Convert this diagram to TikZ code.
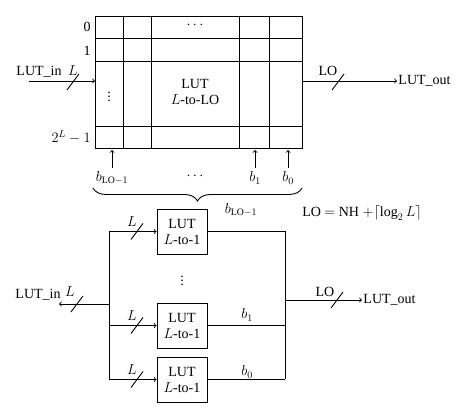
\documentclass[tikz,border=0pt]{standalone}
\usepackage{fontspec}
\setmainfont{Liberation Serif}
\usetikzlibrary{decorations.pathreplacing}
\begin{document}
\begin{tikzpicture}[x=1pt,y=-1pt,line width=0.9pt,
  font=\fontsize{14}{16}\selectfont,
  lutbox/.style={draw,minimum width=50pt,minimum height=45pt,align=center,inner sep=1pt},
  lbl/.style={inner sep=1pt},
  arr/.style={->}]
\useasboundingbox (0,0) rectangle (474,419);
% ---------- top grid ----------
\draw (95,16) rectangle (302,148);
\foreach \y in {38,61,126} \draw (95,\y) -- (302,\y);
\foreach \x in {123,151,239,269} \draw (\x,16) -- (\x,148);
\coordinate (gridW) at (95,81);
\coordinate (gridE) at (302,81);
\node[lbl,anchor=east] (r0) at (92,27) {0};
\node[lbl,anchor=east] (r1) at (92,51) {1};
\node[lbl,anchor=east] (rL) at (92,137) {$2^L-1$};
\node[lbl] (vd) at (109,94) {$\vdots$};
\node[lbl] (hd) at (195,25) {$\cdots$};
\node[lbl,align=center] (lutbig) at (195,92) {LUT\\$L$-to-LO};
% input
\coordinate (inA) at (29,81);
\draw[arr] (inA) -- (gridW);
\node[lbl] (lutinT) at (39,72) {LUT\_in};
\node[lbl] (LT) at (73,71) {$L$};
\draw (67,90) -- (79,74);
% output
\coordinate (outT) at (397,81);
\draw[arr] (gridE) -- (outT);
\node[lbl,anchor=west] (lutoutT) at (outT) {LUT\_out};
\node[lbl] (LOT) at (328,71) {LO};
\draw (332,90) -- (344,74);
% bit arrows
\coordinate (bl) at (112,150);
\coordinate (bb1) at (255,150);
\coordinate (bb0) at (288,150);
\node[lbl] (tbl) at (112,178) {$b_{\mathrm{LO}-1}$};
\node[lbl] (tb1) at (255,178) {$b_1$};
\node[lbl] (tb0) at (288,178) {$b_0$};
\draw[arr] (tbl.north -| bl) ++(0,-2) -- (bl);
\draw[arr] (tb1.north) ++(0,-2) -- (bb1);
\draw[arr] (tb0.north) ++(0,-2) -- (bb0);
\node[lbl] (hd2) at (195,176) {$\cdots$};
\draw[decorate,decoration={brace,mirror,amplitude=13pt}] (93,188) -- (302,188);
% ---------- bottom ----------
\node[lutbox] (b1) at (182,231.5) {LUT\\$L$-to-1};
\node[lutbox] (b2) at (182,325.5) {LUT\\$L$-to-1};
\node[lutbox] (b3) at (182,379.5) {LUT\\$L$-to-1};
\node[lbl] (vd2) at (182,278) {$\vdots$};
\coordinate (bus1) at (109,231.5);
\coordinate (bus2) at (109,325.5);
\coordinate (bus3) at (109,379.5);
\coordinate (busIn) at (109,304);
\coordinate (inB) at (59,304);
\draw (bus1) -- (bus3);
\draw[arr] (bus1) -- (b1.west);
\draw[arr] (bus2) -- (b2.west);
\draw[arr] (bus3) -- (b3.west);
\draw[arr] (busIn) -- (inB);
\node[lbl] (lutinB) at (38,295) {LUT\_in};
\node[lbl] (LB) at (70,292) {$L$};
\draw (71,312) -- (83,296);
\foreach \yy/\nm in {231.5/a,325.5/b,379.5/c}{
  \draw (131,\yy+8) -- (143,\yy-8);
  \node[lbl] (L\nm) at (132,\yy-10) {$L$};
}
% outputs
\coordinate (o1) at (285,231.5);
\coordinate (o2) at (285,325.5);
\coordinate (o3) at (285,379.5);
\coordinate (oM) at (285,300);
\coordinate (oE) at (362,300);
\draw (b1.east) -- (o1);
\draw (b2.east) -- (o2);
\draw (b3.east) -- (o3);
\draw (o1) -- (o3);
\draw[arr] (oM) -- (oE);
\node[lbl,anchor=west] (lutoutB) at (oE) {LUT\_out};
\node[lbl] (LOB) at (325,292) {LO};
\draw (331,308) -- (343,292);
\node[lbl] (bo1) at (241,210) {$b_{\mathrm{LO}-1}$};
\node[lbl] (bo2) at (247,315) {$b_1$};
\node[lbl] (bo3) at (247,372) {$b_0$};
\node[lbl] (form) at (362,213) {LO $=$ NH $+\lceil\log_2 L\rceil$};
\end{tikzpicture}
\end{document}
